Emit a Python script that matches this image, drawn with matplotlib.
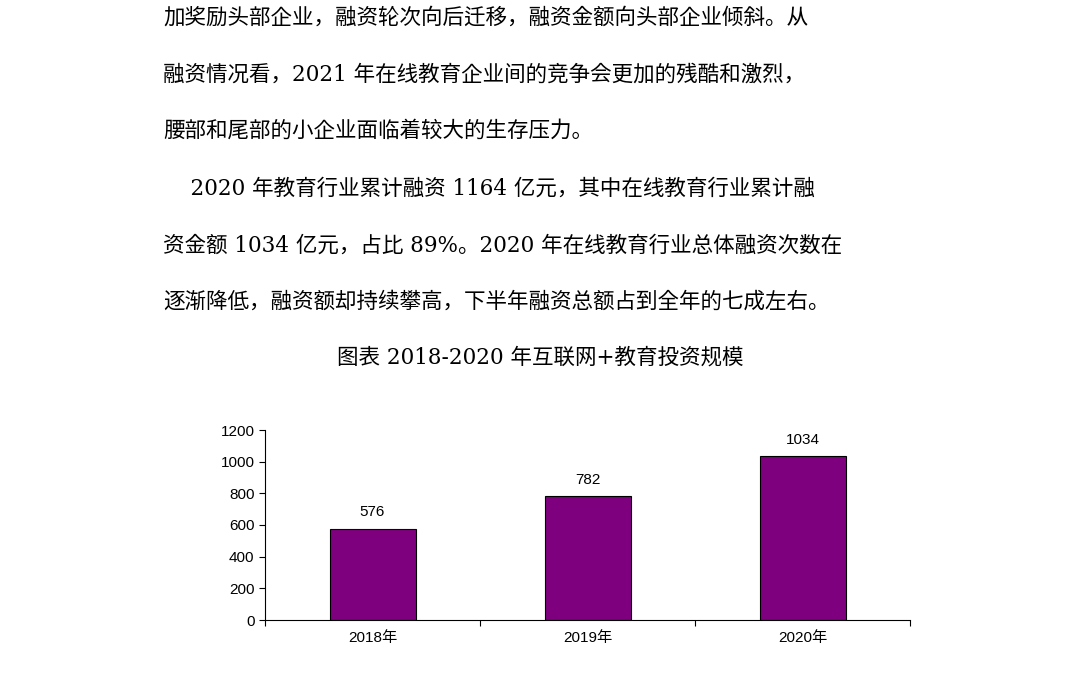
import matplotlib.pyplot as plt
import numpy as np

years = ['2018年', '2019年', '2020年']
amounts = [576, 782, 1034]
y_ticks = [0, 200, 400, 600, 800, 1000, 1200]

paragraph_lines = [
    '加奖励头部企业，融资轮次向后迁移，融资金额向头部企业倾斜。从',
    '融资情况看，2021 年在线教育企业间的竞争会更加的残酷和激烈，',
    '腰部和尾部的小企业面临着较大的生存压力。',
    '    2020 年教育行业累计融资 1164 亿元，其中在线教育行业累计融',
    '资金额 1034 亿元，占比 89%。2020 年在线教育行业总体融资次数在',
    '逐渐降低，融资额却持续攀高，下半年融资总额占到全年的七成左右。',
]
caption = '图表 2018-2020 年互联网+教育投资规模'

W, H = 1080, 675
fig = plt.figure(figsize=(10.8, 6.75), dpi=100)
cjk = ['DejaVu Serif', 'Noto Sans CJK SC', 'Noto Sans CJK JP', 'Noto Sans CJK TC', 'Noto Sans CJK KR']
cjk_sans = ['Liberation Sans', 'Noto Sans CJK SC', 'Noto Sans CJK JP', 'Noto Sans CJK TC', 'Noto Sans CJK KR']

line_y = [18, 75, 131, 189, 246, 302]
for txt, y in zip(paragraph_lines, line_y):
    fig.text(163 / W, 1 - y / H, txt, fontsize=15.5, family=cjk, va='center', ha='left')
fig.text(540 / W, 1 - 358 / H, caption, fontsize=15.5, family=cjk, va='center', ha='center')

ax = fig.add_axes([265 / W, 1 - 620 / H, 645 / W, 190 / H])
x = np.arange(len(years))
ax.bar(x, amounts, width=0.4, color='#7f007f', edgecolor='black', linewidth=0.8)
for xi, v in zip(x, amounts):
    ax.text(xi, v + 60, str(v), ha='center', va='bottom', fontsize=11, family='Liberation Sans')

ax.set_xlim(-0.5, len(years) - 0.5)
ax.set_ylim(0, 1200)
ax.set_yticks(y_ticks)
ax.set_yticklabels([str(t) for t in y_ticks], fontsize=11, family='Liberation Sans')
ax.set_xticks(np.arange(len(years) + 1) - 0.5)
ax.set_xticklabels([])
ax.set_xticks(x, minor=True)
ax.set_xticklabels(years, minor=True, fontsize=11, family=cjk_sans)
ax.tick_params(axis='x', which='minor', length=0, pad=8)
ax.tick_params(axis='both', which='major', direction='out', length=4, width=0.8)
for s in ['top', 'right']:
    ax.spines[s].set_visible(False)

fig.savefig('out.png', dpi=100)
